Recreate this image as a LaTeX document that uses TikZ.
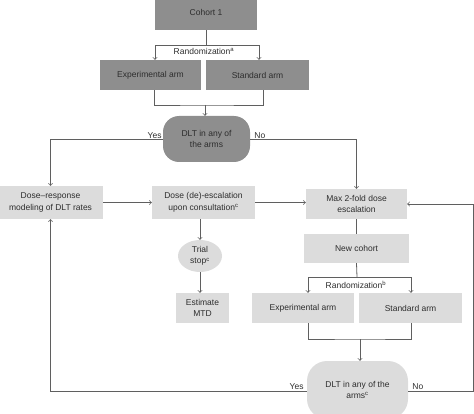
\documentclass[tikz,border=0pt]{standalone}
\usepackage{fontspec}
\setmainfont{Liberation Sans}
\usetikzlibrary{shapes.geometric}
\definecolor{boxdark}{RGB}{142,142,142}
\definecolor{boxlight}{RGB}{220,220,220}
\definecolor{linegray}{RGB}{95,95,95}
\definecolor{txtgray}{RGB}{45,45,45}
\begin{document}
\begin{tikzpicture}[x=1pt,y=-1pt,
        every node/.style={font=\fontsize{8.5}{11.5}\selectfont, text=txtgray, align=center},
        darkbox/.style={fill=boxdark, inner sep=0pt},
        lightbox/.style={fill=boxlight, inner sep=0pt},
        decision/.style={rounded corners=#1, inner sep=0pt},
        lbl/.style={inner sep=1pt},
        conn/.style={draw=linegray, line width=0.8pt}]
    \useasboundingbox (0,0) rectangle (474,414);
    % top part: first cohort
    \node[darkbox, minimum width=102pt, minimum height=35pt] (cohort) at (206,12.5) {Cohort 1};
    \node[darkbox, minimum width=101pt, minimum height=30pt] (exp1) at (150.5,75) {Experimental arm};
    \node[darkbox, minimum width=103pt, minimum height=30pt] (std1) at (257.5,75) {Standard arm};
    \node[darkbox, decision=16pt, minimum width=87pt, minimum height=46pt] (dlt1) at (206.5,139) {DLT in any of\\the arms};
    \node[lbl] (rand1) at (204,51.5) {Randomization\textsuperscript{a}};
    % middle row
    \node[lightbox, minimum width=105pt, minimum height=33pt] (dr) at (50.5,202.5) {Dose--response\\modeling of DLT rates};
    \node[lightbox, minimum width=103pt, minimum height=33pt] (desc) at (203.5,202.5) {Dose (de)-escalation\\upon consultation\textsuperscript{c}};
    \node[lightbox, minimum width=101pt, minimum height=30pt] (max) at (356.5,204) {Max 2-fold dose\\escalation};
    \node[lightbox, ellipse, minimum width=44pt, minimum height=32pt] (trial) at (200,256) {Trial\\stop\textsuperscript{c}};
    \node[lightbox, minimum width=53pt, minimum height=30pt] (mtd) at (202.5,308) {Estimate\\MTD};
    % new cohort
    \node[lightbox, minimum width=105pt, minimum height=29pt] (newc) at (356.5,248.5) {New cohort};
    \node[lightbox, minimum width=102pt, minimum height=30pt] (exp2) at (303,308) {Experimental arm};
    \node[lightbox, minimum width=103pt, minimum height=30pt] (std2) at (410.5,308) {Standard arm};
    \node[lightbox, decision=20pt, minimum width=101pt, minimum height=58pt] (dlt2) at (357.5,390) {DLT in any of the\\arms\textsuperscript{c}};
    \node[lbl] (rand2) at (356,285) {Randomization\textsuperscript{b}};
    % yes / no labels
    \node[lbl, anchor=south east] (yes1) at ([yshift=-1pt]dlt1.west) {Yes};
    \node[lbl, anchor=south west] (no1) at ([xshift=3pt,yshift=-1pt]dlt1.east) {No};
    \node[lbl, anchor=south east] (yes2) at ([xshift=-2pt,yshift=-1pt]dlt2.west) {Yes};
    \node[lbl, anchor=south west] (no2) at ([xshift=3pt,yshift=-1pt]dlt2.east) {No};
    % helper points
    \coordinate (split1) at (206,45);
    \coordinate (join1) at (205,105);
    \coordinate (split2) at (357,277);
    \coordinate (join2) at (360,339);
    \coordinate (rt) at (473,204);
    % connectors
    \draw[conn] (cohort.south) -- (split1);
    \draw[conn, ->] (split1) -| ([xshift=4.5pt]exp1.north);
    \draw[conn, ->] (split1) -| ([xshift=1.5pt]std1.north);
    \draw[conn] ([xshift=3.5pt]exp1.south) |- (join1) -| ([xshift=5.5pt]std1.south);
    \draw[conn, ->] (join1) -- (dlt1.north -| join1);
    \draw[conn, ->] (dlt1.west) -| (dr.north);
    \draw[conn, ->] (dlt1.east) -| (max.north);
    \draw[conn, ->] (dr.east) -- (desc.west);
    \draw[conn, ->] (desc.east) -- (desc.east -| max.west);
    \draw[conn, ->] (trial.north |- desc.south) -- (trial.north);
    \draw[conn, ->] (trial.south) -- (mtd.north -| trial.south);
    \draw[conn] (max.south) -- (newc.north);
    \draw[conn] (newc.south) -- (split2);
    \draw[conn, ->] (split2) -| ([xshift=5pt]exp2.north);
    \draw[conn, ->] (split2) -| ([xshift=0.5pt]std2.north);
    \draw[conn] ([xshift=5pt]exp2.south) |- (join2) -| ([xshift=0.5pt]std2.south);
    \draw[conn, ->] (join2) -- (dlt2.north -| join2);
    \draw[conn, ->] ([yshift=-1pt]dlt2.west) -| (dr.south);
    \draw[conn, ->] ([yshift=-1pt]dlt2.east) -| (rt) -- (max.east);
\end{tikzpicture}
\end{document}
